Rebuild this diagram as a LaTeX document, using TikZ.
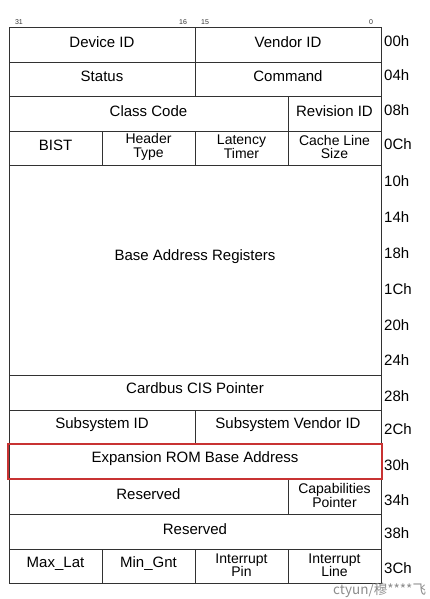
\documentclass[tikz,border=0pt]{standalone}
\usepackage{fontspec}
\setmainfont{Liberation Sans}
\newfontfamily\cjk{Noto Sans CJK SC}
\definecolor{gridcol}{RGB}{50,50,50}
\definecolor{romred}{RGB}{200,50,50}
\definecolor{wmgray}{RGB}{140,140,140}
\newcommand\regcell[7][celltext]{%
  \pgfmathsetmacro\cw{#5-#3}\pgfmathsetmacro\ch{#6-#4}%
  \node[cellbox, minimum width=\cw pt, minimum height=\ch pt] (#2) at ({(#3+#5)/2},{(#4+#6)/2}) {};%
  \node[#1] (#2t) at ([yshift=2.5pt]#2.center) {#7};}
\newcommand\offs[3]{\node[offtext] (#1) at (384,#2) {#3};}
\begin{document}
\begin{tikzpicture}[x=1pt,y=-1pt,
  cellbox/.style={draw=gridcol, line width=0.8pt, inner sep=0pt, outer sep=0pt},
  celltext/.style={inner sep=0pt, align=center, font=\fontsize{15}{13}\selectfont},
  celltwo/.style={inner sep=0pt, align=center, yshift=-1.5pt, font=\fontsize{14}{13.5}\selectfont},
  offtext/.style={anchor=west, inner sep=0pt, font=\fontsize{15}{17}\selectfont},
  bittext/.style={inner sep=0pt, font=\fontsize{7}{8}\selectfont, text=gridcol}]
\useasboundingbox (0,0) rectangle (430,599);
% bit numbers
\node[bittext] (b31) at (19,22) {31};
\node[bittext] (b16) at (183,22) {16};
\node[bittext] (b15) at (205,22) {15};
\node[bittext] (b0) at (371,22) {0};
% rows
\regcell{dev}{9}{27}{195}{62}{Device ID}
\regcell{ven}{195}{27}{381}{62}{Vendor ID}
\regcell{sta}{9}{62}{195}{96}{Status}
\regcell{cmd}{195}{62}{381}{96}{Command}
\regcell{cls}{9}{96}{288}{131}{Class Code}
\regcell{rev}{288}{96}{381}{131}{Revision ID}
\regcell{bist}{9}{131}{102}{165}{BIST}
\regcell[celltwo]{hdr}{102}{131}{195}{165}{Header\\Type}
\regcell[celltwo]{lat}{195}{131}{288}{165}{Latency\\Timer}
\regcell[celltwo]{cache}{288}{131}{381}{165}{Cache Line\\Size}
\regcell[celltext,yshift=11pt]{bar}{9}{165}{381}{375}{Base Address Registers}
\regcell[celltext,yshift=2pt]{cis}{9}{375}{381}{410}{Cardbus CIS Pointer}
\regcell{sid}{9}{410}{195}{444}{Subsystem ID}
\regcell{svid}{195}{410}{381}{444}{Subsystem Vendor ID}
\regcell{rom}{9}{444}{381}{479}{Expansion ROM Base Address}
\regcell{res1}{9}{479}{288}{514}{Reserved}
\regcell[celltwo]{cap}{288}{479}{381}{514}{Capabilities\\Pointer}
\regcell{res2}{9}{514}{381}{549}{Reserved}
\regcell{maxl}{9}{549}{102}{583}{Max\_Lat}
\regcell{ming}{102}{549}{195}{583}{Min\_Gnt}
\regcell[celltwo]{ipin}{195}{549}{288}{583}{Interrupt\\Pin}
\regcell[celltwo]{iline}{288}{549}{381}{583}{Interrupt\\Line}
% red highlight
\node[draw=romred, line width=1.1pt, inner sep=0pt, minimum width=374pt, minimum height=35pt] (romhl) at (rom.center) {};
% offsets
\offs{o00}{41}{00h}
\offs{o04}{75}{04h}
\offs{o08}{110}{08h}
\offs{o0C}{144}{0Ch}
\offs{o10}{181}{10h}
\offs{o14}{217}{14h}
\offs{o18}{253}{18h}
\offs{o1C}{289}{1Ch}
\offs{o20}{325}{20h}
\offs{o24}{360}{24h}
\offs{o28}{396}{28h}
\offs{o2C}{429}{2Ch}
\offs{o30}{465}{30h}
\offs{o34}{500}{34h}
\offs{o38}{533}{38h}
\offs{o3C}{568}{3Ch}
% watermark
\node[anchor=west, inner sep=0pt, text=wmgray, font=\cjk\fontsize{13.5}{14}\selectfont] (wm) at (333,590) {ctyun/穆****飞};
\end{tikzpicture}
\end{document}
